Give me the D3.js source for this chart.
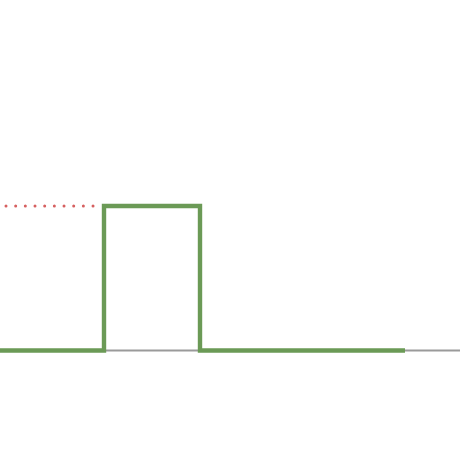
<!DOCTYPE html>
<html>
<head>
<meta charset="utf-8">
<script src="https://cdn.jsdelivr.net/npm/d3@7"></script>
<style>
  body { margin: 0; background: #fff; }
</style>
</head>
<body>
<div id="chart"></div>
<script>
"use strict";

// pulse signal, drawn as a step line
var stepTimes = [0, 1.04, 2.0, 4.05];
var stepValues = [0, 1, 0, 0];
// reference level (dotted)
var refTimes = [0.06, 0.94];
var refValue = 1;
// baseline
var baseTimes = [0, 4.6];

var width = 460, height = 460;

var svg = d3.select("#chart")
    .append("svg")
    .attr("width", width)
    .attr("height", height);

var x = d3.scaleLinear()
    .domain([0, 4.6])
    .range([0, width]);

var y = d3.scaleLinear()
    .domain([0, 1])
    .range([350.5, 206]);

// gray baseline
svg.append("line")
    .attr("x1", x(baseTimes[0]))
    .attr("x2", x(baseTimes[1]))
    .attr("y1", y(0))
    .attr("y2", y(0))
    .attr("stroke", "#9a9a9a")
    .attr("stroke-width", 2);

// red dotted reference
svg.append("line")
    .attr("x1", x(refTimes[0]))
    .attr("x2", x(refTimes[1]))
    .attr("y1", y(refValue))
    .attr("y2", y(refValue))
    .attr("stroke", "#d65f5f")
    .attr("stroke-width", 3)
    .attr("stroke-linecap", "round")
    .attr("stroke-dasharray", "0,9.67");

var line = d3.line()
    .x(d => x(d[0]))
    .y(d => y(d[1]))
    .curve(d3.curveStepAfter);

svg.append("path")
    .datum(d3.zip(stepTimes, stepValues))
    .attr("d", line)
    .attr("fill", "none")
    .attr("stroke", "#6b9a56")
    .attr("stroke-width", 4.4)
    .attr("stroke-linejoin", "miter")
    .attr("stroke-linecap", "butt");
</script>
</body>
</html>
